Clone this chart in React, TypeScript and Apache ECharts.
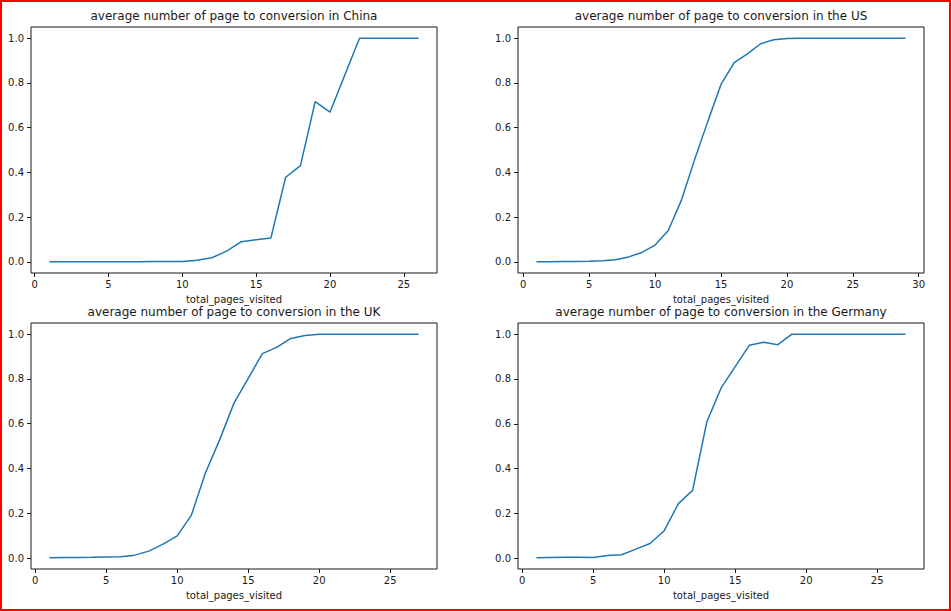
import React, { useEffect, useRef } from 'react';
import * as echarts from 'echarts';

// pages visited (x) and conversion rate (y) per country
const chinaPages = [1, 2, 3, 4, 5, 6, 7, 8, 9, 10, 11, 12, 13, 14, 15, 16, 17, 18, 19, 20, 21, 22, 23, 24, 25, 26];
const chinaRate = [0, 0, 0, 0, 0, 0, 0, 0.001, 0.001, 0.001, 0.007, 0.018, 0.048, 0.09, 0.099, 0.107, 0.378, 0.43, 0.716, 0.669, 0.834, 1, 1, 1, 1, 1];

const usPages = [1, 2, 3, 4, 5, 6, 7, 8, 9, 10, 11, 12, 13, 14, 15, 16, 17, 18, 19, 20, 21, 22, 23, 24, 25, 26, 27, 28, 29];
const usRate = [0, 0, 0.001, 0.001, 0.002, 0.005, 0.009, 0.022, 0.042, 0.075, 0.14, 0.276, 0.457, 0.628, 0.793, 0.891, 0.93, 0.975, 0.993, 0.999, 1, 1, 1, 1, 1, 1, 1, 1, 1];

const ukPages = [1, 2, 3, 4, 5, 6, 7, 8, 9, 10, 11, 12, 13, 14, 15, 16, 17, 18, 19, 20, 21, 22, 23, 24, 25, 26, 27];
const ukRate = [0.001, 0.002, 0.002, 0.003, 0.005, 0.006, 0.013, 0.031, 0.062, 0.099, 0.192, 0.382, 0.53, 0.692, 0.803, 0.913, 0.941, 0.981, 0.994, 1, 1, 1, 1, 1, 1, 1, 1];

const dePages = [1, 2, 3, 4, 5, 6, 7, 8, 9, 10, 11, 12, 13, 14, 15, 16, 17, 18, 19, 20, 21, 22, 23, 24, 25, 26, 27];
const deRate = [0.002, 0.003, 0.004, 0.004, 0.003, 0.012, 0.016, 0.041, 0.066, 0.123, 0.244, 0.303, 0.608, 0.759, 0.855, 0.951, 0.964, 0.953, 1, 1, 1, 1, 1, 1, 1, 1, 1];

const titles = [
    'average number of page to conversion in China',
    'average number of page to conversion in the US',
    'average number of page to conversion in the UK',
    'average number of page to conversion in the Germany',
];
const xTicks = [
    [0, 5, 10, 15, 20, 25],
    [0, 5, 10, 15, 20, 25, 30],
    [0, 5, 10, 15, 20, 25],
    [0, 5, 10, 15, 20, 25],
];
const yTicks = [0, 0.2, 0.4, 0.6, 0.8, 1.0];
const xLabel = 'total_pages_visited';

const FONT = 'DejaVu Sans';
const INK = '#1a1a1a';

// matplotlib-like 5% padding around the data
function padded(values: number[]) {
    const lo = Math.min(...values);
    const hi = Math.max(...values);
    const m = (hi - lo) * 0.05;
    return [lo - m, hi + m];
}

export default function App() {
    const chartRef = useRef<HTMLDivElement>(null);

    useEffect(() => {
        const chart = echarts.init(chartRef.current!, undefined, { renderer: 'svg' });

        const panels = [
            { x: chinaPages, y: chinaRate, left: 31, top: 27 },
            { x: usPages, y: usRate, left: 518, top: 27 },
            { x: ukPages, y: ukRate, left: 31, top: 323 },
            { x: dePages, y: deRate, left: 518, top: 323 },
        ];
        const w = 406;
        const h = 246;

        chart.setOption({
            animation: false,
            backgroundColor: '#fff',
            title: panels.map((p, i) => ({
                text: titles[i],
                left: p.left + w / 2,
                top: p.top - 17,
                textAlign: 'center',
                padding: 0,
                textStyle: { fontFamily: FONT, fontSize: 12, fontWeight: 'normal', color: INK },
            })),
            grid: panels.map((p) => ({
                left: p.left,
                top: p.top,
                width: w,
                height: h,
                show: true,
                borderColor: INK,
                borderWidth: 1,
                backgroundColor: '#fff',
            })),
            xAxis: panels.map((p, i) => {
                const [lo, hi] = padded(p.x);
                return {
                    type: 'value',
                    gridIndex: i,
                    position: 'bottom',
                    min: lo,
                    max: hi,
                    name: xLabel,
                    nameLocation: 'middle',
                    nameGap: 21,
                    nameTextStyle: { fontFamily: FONT, fontSize: 10, color: INK },
                    axisLine: { show: false, onZero: false },
                    splitLine: { show: false },
                    axisTick: {
                        show: true,
                        inside: false,
                        length: 4,
                        customValues: xTicks[i],
                        lineStyle: { color: INK, width: 1 },
                    },
                    axisLabel: {
                        inside: false,
                        customValues: xTicks[i],
                        margin: 6,
                        fontFamily: FONT,
                        fontSize: 10,
                        color: INK,
                    },
                };
            }),
            yAxis: panels.map((p, i) => {
                const [lo, hi] = padded(p.y);
                return {
                    type: 'value',
                    gridIndex: i,
                    position: 'left',
                    min: lo,
                    max: hi,
                    axisLine: { show: false, onZero: false },
                    splitLine: { show: false },
                    axisTick: {
                        show: true,
                        inside: false,
                        length: 4,
                        customValues: yTicks,
                        lineStyle: { color: INK, width: 1 },
                    },
                    axisLabel: {
                        inside: false,
                        customValues: yTicks,
                        margin: 7,
                        fontFamily: FONT,
                        fontSize: 10,
                        color: INK,
                        formatter: (v: number) => v.toFixed(1),
                    },
                };
            }),
            series: panels.map((p, i) => ({
                type: 'line',
                xAxisIndex: i,
                yAxisIndex: i,
                showSymbol: false,
                silent: true,
                lineStyle: { color: '#1f77b4', width: 1.5 },
                data: p.x.map((v, j) => [v, p.y[j]]),
            })),
        });

        return () => {
            chart.dispose();
        };
    }, []);

    return (
        <div style={{ position: 'absolute', left: 0, top: 0, width: 951, height: 611 }}>
            <div ref={chartRef} style={{ width: 951, height: 611 }} />
            <div
                style={{
                    position: 'absolute',
                    left: 0,
                    top: 0,
                    width: 951,
                    height: 611,
                    border: '2px solid #ff0000',
                    boxSizing: 'border-box',
                    pointerEvents: 'none',
                }}
            />
        </div>
    );
}
